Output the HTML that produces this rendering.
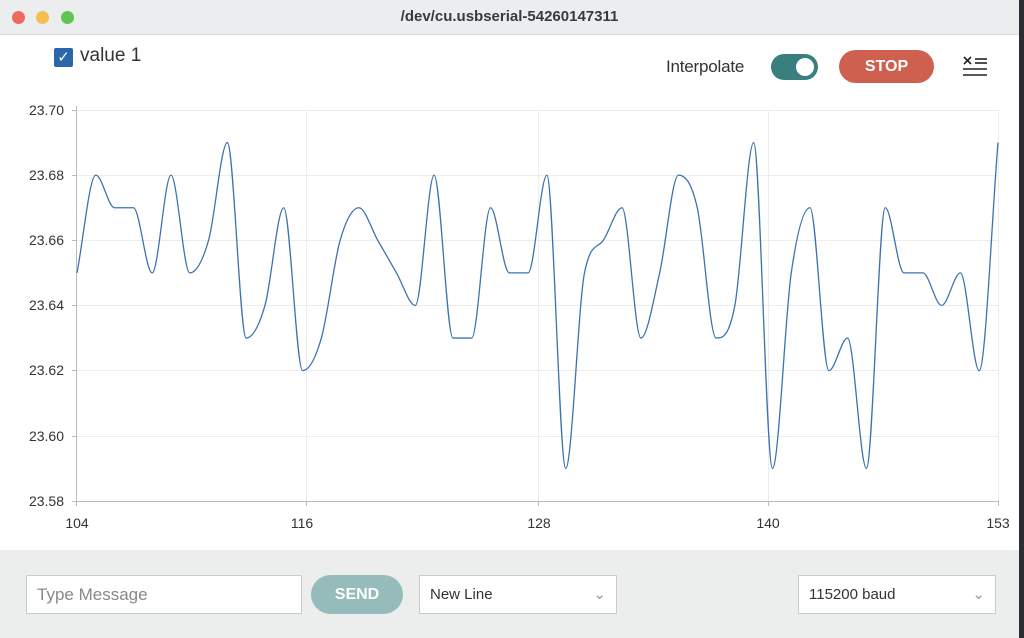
<!DOCTYPE html>
<html><head><meta charset="utf-8"><style>
*{margin:0;padding:0;box-sizing:border-box}
body{width:1024px;height:638px;overflow:hidden;background:#2a2d33;font-family:"Liberation Sans",sans-serif;position:relative}
#win{position:absolute;left:0;top:0;width:1019px;height:638px;background:#fff;overflow:hidden}
#title{position:absolute;left:0;top:0;width:1019px;height:35px;background:#ecedef;border-bottom:1px solid #d8d8d8;text-align:center;line-height:34px;font-size:15px;color:#3a3a3a;font-weight:bold}
.dot{position:absolute;top:11px;width:13px;height:13px;border-radius:50%}
#bottom{position:absolute;left:0;top:550px;width:1019px;height:88px;background:#eceeee}
.box{position:absolute;background:#fff;border:1px solid #c9cccc;font-size:16px;color:#333;padding-left:10px}
</style></head><body><div id="win">
<div id="title">/dev/cu.usbserial-54260147311</div>
<div class="dot" style="left:12px;background:#ee6a5e"></div>
<div class="dot" style="left:36px;background:#f5bf4f"></div>
<div class="dot" style="left:61px;background:#61c554"></div>
<div style="position:absolute;left:54px;top:48px;width:19px;height:19px;background:#2b66ad;border-radius:2px;color:#fff;font-size:15px;text-align:center;line-height:19px">✓</div>
<div style="position:absolute;left:80px;top:45px;font-size:19px;color:#333">value 1</div>
<div style="position:absolute;left:666px;top:57px;font-size:17px;color:#333;letter-spacing:-0.2px">Interpolate</div>
<div style="position:absolute;left:771px;top:54px;width:47px;height:26px;background:#3a7f7f;border-radius:13px"><div style="position:absolute;right:4px;top:4px;width:18px;height:18px;border-radius:50%;background:#fff"></div></div>
<div style="position:absolute;left:839px;top:50px;width:95px;height:33px;background:#cf604f;border-radius:17px;color:#fff;font-weight:bold;font-size:16px;text-align:center;line-height:33px">STOP</div>
<svg style="position:absolute;left:962px;top:55px" width="28" height="24" stroke="#222" stroke-width="1.6">
<line x1="2" y1="2" x2="9" y2="9"/><line x1="9" y1="2" x2="2" y2="9"/>
<line x1="13" y1="4" x2="25" y2="4"/><line x1="13" y1="8" x2="25" y2="8"/>
<line x1="1" y1="14" x2="25" y2="14"/><line x1="1" y1="20" x2="25" y2="20"/>
</svg>
<svg style="position:absolute;left:0;top:0" width="1019" height="550">
<g stroke="#ececec" stroke-width="1">
<line x1="77" x2="998" y1="110.5" y2="110.5"/><line x1="77" x2="998" y1="175.5" y2="175.5"/><line x1="77" x2="998" y1="240.5" y2="240.5"/><line x1="77" x2="998" y1="305.5" y2="305.5"/><line x1="77" x2="998" y1="370.5" y2="370.5"/><line x1="77" x2="998" y1="436.5" y2="436.5"/>
<line x1="306.5" x2="306.5" y1="110" y2="501"/><line x1="538.5" x2="538.5" y1="110" y2="501"/><line x1="768.5" x2="768.5" y1="110" y2="501"/><line x1="998.5" x2="998.5" y1="110" y2="501"/>
</g>
<g stroke="#bbb"><line x1="76.5" x2="76.5" y1="106" y2="506"/><line x1="72" x2="998" y1="501.5" y2="501.5"/>
<line x1="72" x2="77" y1="110.5" y2="110.5"/><line x1="72" x2="77" y1="175.5" y2="175.5"/><line x1="72" x2="77" y1="240.5" y2="240.5"/><line x1="72" x2="77" y1="305.5" y2="305.5"/><line x1="72" x2="77" y1="370.5" y2="370.5"/><line x1="72" x2="77" y1="436.5" y2="436.5"/>
<line x1="306.5" x2="306.5" y1="501" y2="506"/><line x1="538.5" x2="538.5" y1="501" y2="506"/><line x1="768.5" x2="768.5" y1="501" y2="506"/><line x1="998.5" x2="998.5" y1="501" y2="506"/></g>
<g font-size="14" fill="#333" text-anchor="end">
<text x="64" y="115">23.70</text><text x="64" y="180">23.68</text><text x="64" y="245">23.66</text><text x="64" y="310">23.64</text><text x="64" y="375">23.62</text><text x="64" y="441">23.60</text><text x="64" y="506">23.58</text></g>
<g font-size="14" fill="#333" text-anchor="middle">
<text x="77" y="528">104</text><text x="302" y="528">116</text><text x="539" y="528">128</text><text x="768" y="528">140</text><text x="998" y="528">153</text></g>
<path id="ln" fill="none" stroke="#3b73b0" stroke-width="1.3"/>
</svg>
<div id="bottom"></div>
<div class="box" style="left:26px;top:575px;width:276px;height:39px;line-height:37px;color:#888;font-size:17px">Type Message</div>
<div style="position:absolute;left:311px;top:575px;width:92px;height:39px;background:#95bbbb;border-radius:20px;color:#fff;font-weight:bold;font-size:16px;text-align:center;line-height:39px">SEND</div>
<div class="box" style="left:419px;top:575px;width:198px;height:39px;line-height:37px;font-size:15px">New Line<span style="position:absolute;right:10px;color:#999">⌄</span></div>
<div class="box" style="left:798px;top:575px;width:198px;height:39px;line-height:37px;font-size:15px">115200 baud<span style="position:absolute;right:10px;color:#999">⌄</span></div>
</div>
<script>
var v=[65,68,67,67,65,68,65,66,69,63,64,67,62,63,66,67,66,65,64,68,63,63,67,65,65,68,59,65,66,67,63,65,68,67,63,64,69,59,65,67,62,63,59,67,65,65,64,65,62,69];
var n=v.length,x0=77,x1=998;
var pts=v.map(function(a,i){return[x0+(x1-x0)*i/(n-1),110+(70-a)*32.58]});
var d=[],m=[];for(var i=0;i<n-1;i++)d.push((pts[i+1][1]-pts[i][1])/(pts[i+1][0]-pts[i][0]));
for(i=0;i<n;i++){if(i==0)m.push(d[0]);else if(i==n-1)m.push(d[n-2]);else m.push(d[i-1]*d[i]<=0?0:(d[i-1]+d[i])/2);}
for(i=0;i<n-1;i++){if(d[i]==0){m[i]=m[i+1]=0;continue;}var a=m[i]/d[i],b=m[i+1]/d[i],s=a*a+b*b;if(s>9){var t=3/Math.sqrt(s);m[i]=t*a*d[i];m[i+1]=t*b*d[i];}}
var p="M"+pts[0][0]+","+pts[0][1];
for(i=0;i<n-1;i++){var h=(pts[i+1][0]-pts[i][0])/3;p+=" C"+(pts[i][0]+h)+","+(pts[i][1]+m[i]*h)+" "+(pts[i+1][0]-h)+","+(pts[i+1][1]-m[i+1]*h)+" "+pts[i+1][0]+","+pts[i+1][1];}
document.getElementById("ln").setAttribute("d",p);
</script>
</body></html>
